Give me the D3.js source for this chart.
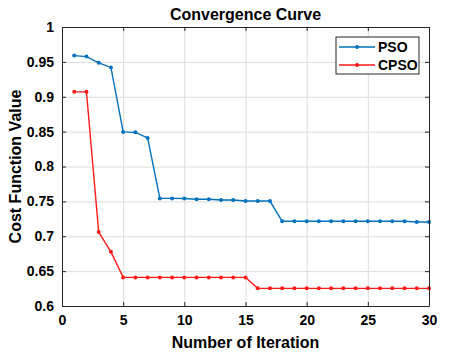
<!DOCTYPE html>
<html>
<head>
<meta charset="utf-8" />
<title>Convergence Curve</title>
<style>
  body { margin: 0; background: #fff; }
  svg text { font-family: "Liberation Sans", Arial, sans-serif; font-weight: bold; fill: #000; }
  .grid line { stroke: #dcdcdc; stroke-width: 1; }
  .grid path { display: none; }
</style>
</head>
<body>
<div id="chart"></div>
<script src="https://d3js.org/d3.v7.min.js"></script>
<script>
// values
const iterations = d3.range(1, 31);
const psoValues = [0.959, 0.9576, 0.9486, 0.942, 0.8496, 0.849, 0.841, 0.7543, 0.7543, 0.7541,
  0.753, 0.753, 0.752, 0.752, 0.7505, 0.7505, 0.7505, 0.7214, 0.7214, 0.7214,
  0.7214, 0.7214, 0.7214, 0.7214, 0.7214, 0.7214, 0.7214, 0.7214, 0.7205, 0.7205];
const cpsoValues = [0.907, 0.907, 0.706, 0.6776, 0.641, 0.641, 0.641, 0.641, 0.641, 0.641,
  0.641, 0.641, 0.641, 0.641, 0.641, 0.6253, 0.6253, 0.6253, 0.6253, 0.6253,
  0.6253, 0.6253, 0.6253, 0.6253, 0.6253, 0.6253, 0.6253, 0.6253, 0.6253, 0.6253];
const xTicks = [0, 5, 10, 15, 20, 25, 30];
const yTicks = [0.6, 0.65, 0.7, 0.75, 0.8, 0.85, 0.9, 0.95, 1];
const seriesNames = ["PSO", "CPSO"];
const seriesColors = ["#0072BD", "#ff1a1a"];

const W = 474, H = 353;
const margin = { top: 27, right: 45, bottom: 47, left: 62 };
const width = W - margin.left - margin.right;
const height = H - margin.top - margin.bottom;

const svg = d3.select("#chart").append("svg")
  .attr("width", W)
  .attr("height", H);

const chart = svg.append("g")
  .attr("transform", `translate(${margin.left}, ${margin.top})`);

const x = d3.scaleLinear().domain([0, 30]).range([0, width]);
const y = d3.scaleLinear().domain([0.6, 1]).range([height, 0]);

// grid
chart.append("g")
  .attr("class", "grid")
  .call(d3.axisLeft(y).tickValues(yTicks).tickSize(-width).tickFormat(""));
chart.append("g")
  .attr("class", "grid")
  .attr("transform", `translate(0, ${height})`)
  .call(d3.axisBottom(x).tickValues(xTicks).tickSize(-height).tickFormat(""));

// lines
const line = d3.line()
  .x((d, i) => x(iterations[i]))
  .y(d => y(d));

[psoValues, cpsoValues].forEach((vals, k) => {
  chart.append("path")
    .datum(vals)
    .attr("fill", "none")
    .attr("stroke", seriesColors[k])
    .attr("stroke-width", 1.4)
    .attr("d", line);
  chart.selectAll(null)
    .data(vals)
    .enter()
    .append("circle")
    .attr("cx", (d, i) => x(iterations[i]))
    .attr("cy", d => y(d))
    .attr("r", 2)
    .attr("fill", seriesColors[k]);
});

// axes box with inward ticks (MATLAB style)
const axisColor = "#262626";
const axBottom = chart.append("g")
  .attr("transform", `translate(0, ${height})`)
  .call(d3.axisBottom(x).tickValues(xTicks).tickSizeInner(-4).tickSizeOuter(0).tickPadding(9).tickFormat(d3.format("d")));
const axLeft = chart.append("g")
  .call(d3.axisLeft(y).tickValues(yTicks).tickSizeInner(-4).tickSizeOuter(0).tickPadding(8).tickFormat(d => d === 1 ? "1" : d3.format(".2~f")(d)));
const axTop = chart.append("g")
  .call(d3.axisTop(x).tickValues(xTicks).tickSizeInner(-4).tickSizeOuter(0).tickFormat(""));
const axRight = chart.append("g")
  .attr("transform", `translate(${width}, 0)`)
  .call(d3.axisRight(y).tickValues(yTicks).tickSizeInner(-4).tickSizeOuter(0).tickFormat(""));

[axBottom, axLeft, axTop, axRight].forEach(a => {
  a.selectAll("path").attr("stroke", axisColor);
  a.selectAll("line").attr("stroke", axisColor);
  a.selectAll("text").attr("font-size", 14).attr("fill", "#000")
    .attr("font-family", "'Liberation Sans', Arial, sans-serif").attr("font-weight", "bold");
});

// legend
const legend = chart.append("g")
  .attr("transform", `translate(${width - 93}, 10)`);
legend.append("rect")
  .attr("width", 83)
  .attr("height", 37)
  .attr("fill", "#fff")
  .attr("stroke", axisColor)
  .attr("stroke-width", 1);
seriesNames.forEach((name, i) => {
  const row = legend.append("g").attr("transform", `translate(0, ${10 + i * 18})`);
  row.append("line")
    .attr("x1", 3).attr("x2", 39)
    .attr("stroke", seriesColors[i])
    .attr("stroke-width", 1.4);
  row.append("circle")
    .attr("cx", 21).attr("r", 2)
    .attr("fill", seriesColors[i]);
  row.append("text")
    .attr("x", 42)
    .attr("dy", "0.36em")
    .attr("font-size", 14)
    .text(name);
});

// titles
svg.append("text")
  .attr("x", margin.left + width / 2)
  .attr("y", 20)
  .attr("text-anchor", "middle")
  .attr("font-size", 16)
  .text("Convergence Curve");

svg.append("text")
  .attr("x", margin.left + width / 2)
  .attr("y", H - 5)
  .attr("text-anchor", "middle")
  .attr("font-size", 16)
  .text("Number of Iteration");

svg.append("text")
  .attr("transform", `translate(21, ${margin.top + height / 2}) rotate(-90)`)
  .attr("text-anchor", "middle")
  .attr("font-size", 16)
  .text("Cost Function Value");
</script>
</body>
</html>
